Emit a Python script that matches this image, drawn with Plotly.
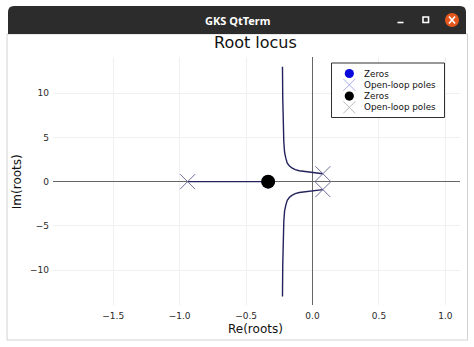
import plotly.graph_objects as go

W, H = 474, 347
FONT = "DejaVu Sans"

# Open-loop poles and zeros
pole_re = [-0.94, 0.078, 0.078]
pole_im = [0.0, 0.90, -0.90]
zero_re = [-0.334]
zero_im = [0.0]

# Root-locus branches
real_branch_re = [-0.94, -0.334]
real_branch_im = [0.0, 0.0]
upper_re = [0.078, 0.05, 0.02, -0.02, -0.06, -0.10, -0.13, -0.155, -0.175,
            -0.19, -0.20, -0.21, -0.216, -0.221, -0.224, -0.226]
upper_im = [0.90, 0.95, 1.00, 1.06, 1.13, 1.23, 1.36, 1.55, 1.80,
            2.10, 2.60, 3.30, 4.50, 6.50, 9.50, 13.0]
lower_re = [0.078, 0.05, 0.02, -0.02, -0.06, -0.10, -0.13, -0.155, -0.175,
            -0.19, -0.20, -0.21, -0.216, -0.221, -0.224, -0.226]
lower_im = [-0.90, -0.95, -1.00, -1.06, -1.13, -1.23, -1.36, -1.55, -1.80,
            -2.10, -2.60, -3.30, -4.50, -6.50, -9.50, -13.0]

x_tick_vals = [-1.5, -1.0, -0.5, 0.0, 0.5, 1.0]
x_tick_labels = ["\u22121.5", "\u22121.0", "\u22120.5", "0.0", "0.5", "1.0"]
y_tick_vals = [-10, -5, 0, 5, 10]
y_tick_labels = ["\u221210", "\u22125", "0", "5", "10"]

legend_labels = ["Zeros", "Open-loop poles", "Zeros", "Open-loop poles"]
legend_symbols = ["circle", "x", "circle", "x"]
legend_colors = ["#0a0adc", "#a9b0e6", "#000000", "#b9b9b9"]

LOCUS_COLOR = "#22235c"
POLE_COLOR = "#6f6f9a"


def px(x):
    return x / W


def py(y):
    return 1 - y / H


fig = go.Figure()

for re_vals, im_vals in [(real_branch_re, real_branch_im),
                         (upper_re, upper_im),
                         (lower_re, lower_im)]:
    fig.add_trace(go.Scatter(x=re_vals, y=im_vals, mode="lines",
                             line=dict(color=LOCUS_COLOR, width=1.4),
                             showlegend=False, hoverinfo="skip"))

fig.add_trace(go.Scatter(x=zero_re, y=zero_im, mode="markers",
                         marker=dict(symbol="circle", size=13, color="#0a0adc"),
                         showlegend=False))
fig.add_trace(go.Scatter(x=pole_re, y=pole_im, mode="markers",
                         marker=dict(symbol="x-thin", size=15,
                                     line=dict(color=POLE_COLOR, width=1)),
                         showlegend=False))
fig.add_trace(go.Scatter(x=zero_re, y=zero_im, mode="markers",
                         marker=dict(symbol="circle", size=14, color="#000000"),
                         showlegend=False))

shapes = []
annotations = []

# Window frame
shapes.append(dict(type="rect", xref="paper", yref="paper",
                   x0=px(7), x1=px(467.5), y0=py(340), y1=py(34),
                   line=dict(color="#d2d2d2", width=1), fillcolor="rgba(0,0,0,0)",
                   layer="above"))
# Title bar with rounded top corners
r = 6
path = (f"M {px(8)},{py(34)} L {px(8)},{py(6 + r)} "
        f"Q {px(8)},{py(6)} {px(8 + r)},{py(6)} "
        f"L {px(466 - r)},{py(6)} Q {px(466)},{py(6)} {px(466)},{py(6 + r)} "
        f"L {px(466)},{py(34)} Z")
shapes.append(dict(type="path", xref="paper", yref="paper", path=path,
                   fillcolor="#2c2c2c", line=dict(width=0), layer="above"))
annotations.append(dict(x=px(237), y=py(20), xref="paper", yref="paper",
                        text="<b>GKS QtTerm</b>", showarrow=False,
                        font=dict(family="Noto Sans", size=11, color="#ffffff"),
                        xanchor="center", yanchor="middle"))
# Window buttons
shapes.append(dict(type="line", xref="paper", yref="paper",
                   x0=px(397.5), x1=px(403.5), y0=py(22.5), y1=py(22.5),
                   line=dict(color="#ffffff", width=1.6), layer="above"))
shapes.append(dict(type="rect", xref="paper", yref="paper",
                   x0=px(423), x1=px(428.5), y0=py(22.5), y1=py(17),
                   line=dict(color="#ffffff", width=1.6), fillcolor="rgba(0,0,0,0)",
                   layer="above"))
shapes.append(dict(type="circle", xref="paper", yref="paper",
                   x0=px(445), x1=px(459), y0=py(27), y1=py(13),
                   line=dict(width=0), fillcolor="#e5561f", layer="above"))
for a, b in [((449, 16.5), (455, 23.5)), ((449, 23.5), (455, 16.5))]:
    shapes.append(dict(type="line", xref="paper", yref="paper",
                       x0=px(a[0]), y0=py(a[1]), x1=px(b[0]), y1=py(b[1]),
                       line=dict(color="#ffffff", width=1.6), layer="above"))

# Legend box
shapes.append(dict(type="rect", xref="paper", yref="paper",
                   x0=px(331.5), x1=px(444.5), y0=py(117.5), y1=py(63),
                   line=dict(color="#303030", width=1), fillcolor="#ffffff",
                   layer="above"))
row_y = [73.5, 84.8, 96.1, 107.4]
mx = 349.3
for label, sym, col, yy in zip(legend_labels, legend_symbols, legend_colors, row_y):
    if sym == "circle":
        rr = 4.6
        shapes.append(dict(type="circle", xref="paper", yref="paper",
                           x0=px(mx - rr), x1=px(mx + rr), y0=py(yy + rr), y1=py(yy - rr),
                           line=dict(width=0), fillcolor=col, layer="above"))
    else:
        h = 6
        for a, b in [((mx - h, yy - h), (mx + h, yy + h)),
                     ((mx - h, yy + h), (mx + h, yy - h))]:
            shapes.append(dict(type="line", xref="paper", yref="paper",
                               x0=px(a[0]), y0=py(a[1]), x1=px(b[0]), y1=py(b[1]),
                               line=dict(color=col, width=1), layer="above"))
    annotations.append(dict(x=px(361.5), y=py(yy), xref="paper", yref="paper",
                            text=label, showarrow=False,
                            font=dict(family=FONT, size=8.8, color="#111111"),
                            xanchor="left", yanchor="middle"))

# Plot title and axis titles
annotations.append(dict(x=px(255), y=py(43), xref="paper", yref="paper",
                        text="Root locus", showarrow=False,
                        font=dict(family=FONT, size=16, color="#111111"),
                        xanchor="center", yanchor="middle"))
annotations.append(dict(x=px(255.5), y=py(329), xref="paper", yref="paper",
                        text="Re(roots)", showarrow=False,
                        font=dict(family=FONT, size=12, color="#111111"),
                        xanchor="center", yanchor="middle"))
annotations.append(dict(x=px(16.5), y=py(181.7), xref="paper", yref="paper",
                        text="Im(roots)", showarrow=False, textangle=-90,
                        font=dict(family=FONT, size=12, color="#111111"),
                        xanchor="center", yanchor="middle"))

axis_common = dict(showgrid=True, gridcolor="#f0f0f0", gridwidth=1,
                   zeroline=True, zerolinecolor="#666666", zerolinewidth=1.2,
                   showline=False, ticks="",
                   tickfont=dict(family=FONT, size=9, color="#2a2a2a"))

fig.update_layout(
    width=W, height=H,
    margin=dict(l=0, r=0, t=0, b=0),
    paper_bgcolor="#ffffff", plot_bgcolor="#ffffff",
    showlegend=False,
    font=dict(family=FONT),
    xaxis=dict(range=[-1.953, 1.11], domain=[px(53), px(460)],
               tickvals=x_tick_vals, ticktext=x_tick_labels,
               ticklabelstandoff=4, **axis_common),
    yaxis=dict(range=[-13.95, 14.1], domain=[py(305), py(57)],
               tickvals=y_tick_vals, ticktext=y_tick_labels,
               ticklabelstandoff=3, **axis_common),
    shapes=shapes,
    annotations=annotations,
)

fig.write_html("out.html", config={"displayModeBar": False})
